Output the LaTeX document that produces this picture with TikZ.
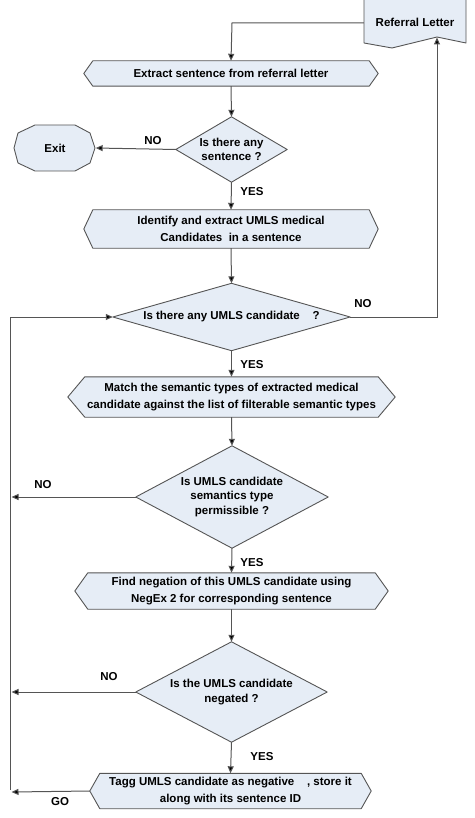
\documentclass[tikz,border=0pt]{standalone}
\usepackage{fontspec}
\setmainfont{Liberation Sans}
\usetikzlibrary{arrows.meta,backgrounds}
\definecolor{shapefill}{RGB}{230,237,246}
\definecolor{linegray}{RGB}{85,85,85}
\tikzset{
  txt/.style={font=\fontsize{11.5}{16.5}\selectfont\bfseries, align=center, inner sep=0pt},
  dtxt/.style={font=\fontsize{11.5}{14.5}\selectfont\bfseries, align=center, inner sep=0pt},
  outline/.style={draw=linegray, fill=shapefill, line width=0.9pt, line join=round},
  conn/.style={draw=linegray, line width=1pt},
  arr/.style={conn, -{Triangle[length=7pt,width=6pt,fill=black]}},
  lbl/.style={font=\fontsize{11.5}{14}\selectfont\bfseries, inner sep=0pt}
}
\newcommand\hexoutline[2]{%
  \begin{scope}[on background layer]
  \path[outline] ([xshift=#2pt]#1.north west) -- ([xshift=-#2pt]#1.north east) -- (#1.east) -- ([xshift=-#2pt]#1.south east) -- ([xshift=#2pt]#1.south west) -- (#1.west) -- cycle;
  \end{scope}}
\newcommand\diaoutline[1]{%
  \begin{scope}[on background layer]
  \path[outline] (#1.north) -- (#1.east) -- (#1.south) -- (#1.west) -- cycle;
  \end{scope}}
\begin{document}
\begin{tikzpicture}[x=1pt,y=-1pt]
\useasboundingbox (0,0) rectangle (474,818);

% Referral letter (document shape)
\node[txt, minimum width=102pt, minimum height=50pt] (ref) at (415,23) {\raisebox{2pt}{Referral Letter}};
\begin{scope}[on background layer]
\path[outline] (364,-3) -- (466,-3) -- (466,43) -- (437,37) -- (392,48) -- (364,43) -- cycle;
\end{scope}
\coordinate (refin) at (437,37.5);

% Process boxes
\node[txt, minimum width=294pt, minimum height=25pt] (extract) at (231,73.5) {Extract sentence from referral letter};
\hexoutline{extract}{9}
\node[txt, minimum width=294pt, minimum height=38pt] (identify) at (231,229) {Identify and extract UMLS medical\\Candidates\ \ in a sentence};
\hexoutline{identify}{9}
\node[txt, minimum width=327pt, minimum height=40pt] (match) at (231.5,397) {Match the semantic types of extracted medical\\candidate against the list of filterable semantic types};
\hexoutline{match}{17}
\node[txt, minimum width=313pt, minimum height=36pt] (find) at (231.5,591) {Find negation of this UMLS candidate using\\NegEx 2 for corresponding sentence};
\hexoutline{find}{13}
\node[txt, minimum width=281pt, minimum height=35pt] (tagg) at (230.5,791) {Tagg UMLS candidate as negative\ \ \ \ , store it\\along with its sentence ID};
\hexoutline{tagg}{10}

% Decisions
\node[dtxt, minimum width=111pt, minimum height=65pt] (d1) at (231.5,149.5) {Is there any\\sentence ?};
\diaoutline{d1}
\node[dtxt, minimum width=237pt, minimum height=67pt] (d2) at (231.5,317) {Is there any UMLS candidate\ \ \ \ ?};
\diaoutline{d2}
\node[dtxt, minimum width=192pt, minimum height=102pt] (d3) at (232,497) {Is UMLS candidate\\semantics type\\permissible ?};
\diaoutline{d3}
\node[dtxt, minimum width=191pt, minimum height=100pt] (d4) at (231.5,692) {Is the UMLS candidate\\negated ?};
\diaoutline{d4}

% Exit (octagon)
\node[txt, minimum width=81pt, minimum height=46pt] (exit) at (55,148) {Exit};
\begin{scope}[on background layer]
\path[outline] (35,125) -- (75,125) -- (90,133) -- (95,148) -- (90,163) -- (75,171) -- (35,171) -- (18,163) -- (14,148) -- (18,133) -- cycle;
\end{scope}

% Free ends
\coordinate (bend1) at (232,23);
\coordinate (nod3) at (11.5,497);
\coordinate (nod4) at (11.5,692);
\coordinate (goend) at (11.5,792);
\coordinate (loopbot) at (10,790);

% Connectors
\draw[arr] (ref.west) -- (bend1) -- (extract.north);
\draw[arr] (extract.south) -- (d1.north);
\draw[arr] (d1.west) -- (exit.east);
\draw[arr] (d1.south) -- (identify.north);
\draw[arr] (identify.south) -- (d2.north);
\draw[arr] (d2.east) -| (refin);
\draw[arr] (d2.south) -- (match.north);
\draw[arr] (match.south) -- (d3.north);
\draw[arr] (d3.west) -- (nod3);
\draw[arr] (d3.south) -- (find.north);
\draw[arr] (find.south) -- (d4.north);
\draw[arr] (d4.west) -- (nod4);
\draw[arr] (d4.south) -- (tagg.north);
\draw[arr] (tagg.west) -- (goend);
\draw[arr] (loopbot) |- (d2.west);

% Labels
\node[lbl] (l1) at (153,141) {NO};
\node[lbl] (l2) at (252,192) {YES};
\node[lbl] (l3) at (363,304) {NO};
\node[lbl] (l4) at (252,365) {YES};
\node[lbl] (l5) at (43,485) {NO};
\node[lbl] (l6) at (252,563) {YES};
\node[lbl] (l7) at (109,677) {NO};
\node[lbl] (l8) at (262,757) {YES};
\node[lbl] (l9) at (60,802) {GO};
\end{tikzpicture}
\end{document}
